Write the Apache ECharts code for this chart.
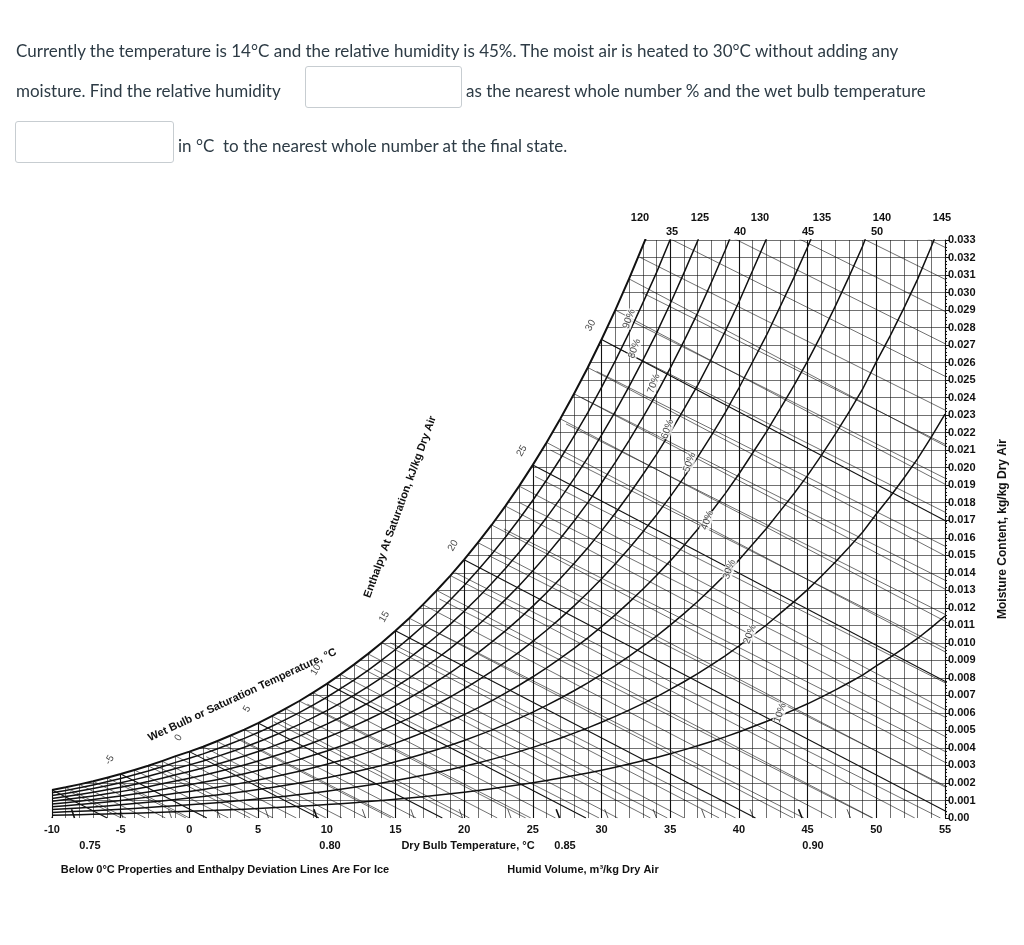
<!DOCTYPE html>
<html><head><meta charset="utf-8">
<script src="https://cdn.jsdelivr.net/npm/echarts@6/dist/echarts.min.js"></script>
<style>
body{margin:0;background:#fff;font-family:Lato,"Open Sans",sans-serif;}
#chart{position:absolute;left:0;top:0;width:1024px;height:945px;}
.q{position:absolute;left:16px;font-size:17px;color:#2d3b45;}
.box{position:absolute;border:1px solid #c7cdd1;border-radius:3px;background:#fff;}
</style></head><body>
<div id="chart"></div>
<div class="q" style="top:40px">Currently the temperature is 14°C and the relative humidity is 45%. The moist air is heated to 30°C without adding any</div>
<div class="q" style="top:80px">moisture. Find the relative humidity</div>
<div class="box" style="left:305px;top:66px;width:155px;height:40px"></div>
<div class="q" style="top:80px;left:466px">as the nearest whole number % and the wet bulb temperature</div>
<div class="box" style="left:15px;top:121px;width:157px;height:40px"></div>
<div class="q" style="top:135px;left:178px">in °C&nbsp; to the nearest whole number at the final state.</div>
<script>
// saturation moisture content, kg/kg per 1 °C
var satT = [];
for (var t = -10; t <= 55; t++) satT.push(t);
var satW = [0.00160,0.00175,0.00192,0.00210,0.00230,0.00251,0.00274,0.00298,0.00325,0.00353,
  0.00379,0.00407,0.00438,0.00471,0.00505,0.00542,0.00582,0.00624,0.00668,0.00716,
  0.00766,0.00820,0.00877,0.00937,0.01001,0.01069,0.01141,0.01218,0.01299,0.01384,
  0.01475,0.01572,0.01673,0.01781,0.01895,0.02016,0.02144,0.02279,0.02422,0.02572,
  0.02732,0.02900,0.03078,0.03266,0.0346,0.0367,0.0389,0.0412,0.0437,0.0463,
  0.0491,0.0521,0.0551,0.0584,0.0617,0.0652,0.0690,0.0730,0.0772,0.0816,
  0.0868,0.0917,0.0970,0.1025,0.1087,0.1153];
var rhLevels = [0.1,0.2,0.3,0.4,0.5,0.6,0.7,0.8,0.9];
var rhLabelPos = [[43,0.0060],[40.8,0.0105],[39.3,0.0142],[37.7,0.0170],[36.4,0.0203],[34.8,0.0222],[33.8,0.0248],[32.4,0.0268],[32,0.0285]];
var wetBulb = [];
for (var w = -10; w <= 32; w++) wetBulb.push(w);
var enthalpyLevels = [];
for (var h = -10; h <= 145; h += 5) enthalpyLevels.push(h);
var volumeLevels = [0.75,0.76,0.77,0.78,0.79,0.80,0.81,0.82,0.83,0.84,0.85,0.86,0.87,0.88,0.89,0.90,0.91];
var WMAX = 0.033;

function wsAt(T){
  var i = Math.floor(T - satT[0]);
  if (i < 0) return satW[0];
  if (i >= satW.length - 1) return satW[satW.length-1];
  var f = T - satT[0] - i;
  return satW[i] + (satW[i+1]-satW[i])*f;
}
function tsAt(W){
  for (var i = 0; i < satW.length-1; i++)
    if (satW[i+1] >= W) return satT[i] + (W - satW[i])/(satW[i+1]-satW[i]);
  return 55;
}

var grid = [], gridBold = [];
for (var x = -10; x <= 55; x++) {
  var seg = {coords:[[x,0],[x,Math.min(wsAt(x),WMAX)]]};
  (x % 5 === 0 ? gridBold : grid).push(seg);
}
for (var k = 1; k <= 33; k++) {
  var y = k/1000;
  grid.push({coords:[[Math.max(tsAt(y),-10),y],[55,y]]});
}
var sat = [];
for (var i = 0; i < satT.length; i++) sat.push([satT[i], satW[i]]);
var rhLines = rhLevels.map(function(p){
  return {coords: satT.map(function(t,i){ return [t, p*satW[i]]; })};
});
var wbThin = [], wbBold = [];
wetBulb.forEach(function(tw){
  var ws = wsAt(tw);
  var t0 = tw + (2501-2.326*tw)*ws/1.006;
  (tw % 5 === 0 ? wbBold : wbThin).push({coords:[[tw,ws],[t0,0]]});
});
var enth = [];
enthalpyLevels.forEach(function(h){
  var pts = [];
  for (var W = 0; W <= 0.034; W += 0.0005) {
    var T = (h-2501*W)/(1.006+1.86*W);
    if (W > wsAt(T)) break;
    pts.push([T, W]);
  }
  if (pts.length > 1) enth.push({coords:[pts[0], pts[pts.length-1]]});
});
var vol = [], volBold = [];
volumeLevels.forEach(function(v){
  var pts = [];
  for (var W = 0; W <= 0.034; W += 0.0005) {
    var T = v*101.325/(0.287*(1+1.6078*W)) - 273.15;
    if (W > wsAt(T)) break;
    pts.push([T, W]);
  }
  (Math.round(v*100) % 5 === 0 ? volBold : vol).push({coords: pts});
});

function ls(name, data, width, poly){
  return {type:'lines', name:name, coordinateSystem:'cartesian2d', polyline:!!poly, clip:true,
    silent:true, data:data, lineStyle:{color:'#111', width:width, opacity:1}};
}

var chart = echarts.init(document.getElementById('chart'));
chart.setOption({
  animation:false,
  grid:{left:52, right:79, top:240, bottom:127},
  xAxis:{type:'value', min:-10, max:55, interval:5,
    axisLine:{show:false, onZero:false}, axisTick:{show:false}, splitLine:{show:false},
    axisLabel:{color:'#111', fontWeight:'bold', fontSize:11, fontFamily:'Liberation Sans', margin:6}},
  yAxis:{type:'value', position:'right', min:0, max:WMAX, interval:0.001,
    axisLine:{show:true, onZero:false, lineStyle:{color:'#111'}}, axisTick:{show:true, length:4, lineStyle:{color:'#111'}},
    minorTick:{show:true, splitNumber:5, length:2, lineStyle:{color:'#111'}},
    splitLine:{show:false},
    axisLabel:{color:'#111', fontWeight:'bold', fontSize:11, fontFamily:'Liberation Sans', margin:3,
      formatter:function(v){ return v === 0 ? '0.00' : v.toFixed(3); }},
    name:'Moisture Content, kg/kg Dry Air', nameLocation:'middle', nameRotate:90, nameGap:52,
    nameTextStyle:{fontWeight:'bold', fontSize:12, fontFamily:'Liberation Sans', color:'#111'}},
  series:[
    ls('grid', grid, 0.6), ls('gridBold', gridBold, 1.1),
    ls('enthalpy', enth, 0.6), ls('wb', wbThin, 0.6), ls('wbBold', wbBold, 1.1),
    ls('vol', vol, 0.7), ls('volBold', volBold, 1.6),
    ls('rh', rhLines, 1.5, true),
    ls('sat', [{coords: sat}], 2, true),
    {type:'scatter', symbolSize:0, silent:true,
      data: rhLabelPos.map(function(p,i){ return {value:p, name:Math.round(rhLevels[i]*100)+'%'}; }),
      label:{show:true, position:'inside', formatter:'{b}', rotate:70, fontSize:10, color:'#111', backgroundColor:'#fff'}},
    {type:'scatter', symbolSize:0, silent:true,
      data: wetBulb.filter(function(t){ return t % 5 === 0; }).map(function(t){ return {value:[t-0.8, wsAt(t)+0.0008], name:String(t)}; }),
      label:{show:true, formatter:'{b}', rotate:60, fontSize:10, color:'#111'}}
  ]
});

var texts = [
  {x:90, y:846, t:'0.75'}, {x:330, y:846, t:'0.80'}, {x:565, y:846, t:'0.85'}, {x:813, y:846, t:'0.90'},
  {x:468, y:846, t:'Dry Bulb Temperature, °C'},
  {x:225, y:870, t:'Below 0°C Properties and Enthalpy Deviation Lines Are For Ice'},
  {x:583, y:870, t:'Humid Volume, m³/kg Dry Air'},
  {x:640, y:218, t:'120'}, {x:700, y:218, t:'125'}, {x:760, y:218, t:'130'},
  {x:822, y:218, t:'135'}, {x:882, y:218, t:'140'}, {x:942, y:218, t:'145'},
  {x:672, y:232, t:'35'}, {x:740, y:232, t:'40'}, {x:808, y:232, t:'45'}, {x:877, y:232, t:'50'}
];
chart.setOption({graphic: texts.map(function(o){
  return {type:'text', x:o.x, y:o.y, style:{text:o.t, fill:'#111', font:'bold 11px "Liberation Sans"', align:'center', verticalAlign:'middle'}};
}).concat([
  {type:'text', x:395, y:505, rotation:Math.PI*70/180, style:{text:'Enthalpy At Saturation, kJ/kg Dry Air', fill:'#111', font:'bold 11px "Liberation Sans"', align:'center'}},
  {type:'text', x:240, y:690, rotation:Math.PI*25/180, style:{text:'Wet Bulb or Saturation Temperature, °C', fill:'#111', font:'bold 11px "Liberation Sans"', align:'center'}}
])});
</script>
</body></html>
